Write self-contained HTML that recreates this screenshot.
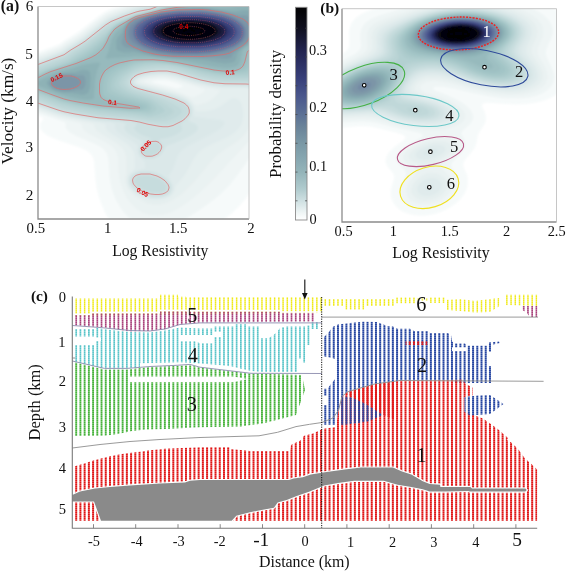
<!DOCTYPE html>
<html><head><meta charset="utf-8"><style>
html,body{margin:0;padding:0;background:#fff;}
svg{display:block;}
</style></head><body>
<svg width="567" height="572" viewBox="0 0 567 572" font-family="Liberation Serif, serif" fill="#111">
<defs>
<clipPath id="clipA"><rect x="38" y="6.5" width="211" height="212.5"/></clipPath>
<clipPath id="clipB"><rect x="342" y="8.7" width="214.5" height="213.3"/></clipPath>
<filter id="soft" x="-5%" y="-5%" width="110%" height="110%"><feGaussianBlur stdDeviation="1.1"/></filter>
<linearGradient id="cbar" x1="0" y1="1" x2="0" y2="0"><stop offset="0.0000" stop-color="#ffffff"/><stop offset="0.0318" stop-color="#f0f6f6"/><stop offset="0.0927" stop-color="#cddfe1"/><stop offset="0.1457" stop-color="#b0cbce"/><stop offset="0.2252" stop-color="#94b4b9"/><stop offset="0.2915" stop-color="#86a6b0"/><stop offset="0.3604" stop-color="#7a98a5"/><stop offset="0.4372" stop-color="#6a8399"/><stop offset="0.5034" stop-color="#5a6e94"/><stop offset="0.5829" stop-color="#4a578c"/><stop offset="0.6624" stop-color="#38407a"/><stop offset="0.7949" stop-color="#222450"/><stop offset="0.9009" stop-color="#10101f"/><stop offset="0.9804" stop-color="#050508"/></linearGradient>
<path id="cols" d="M76.20 290V524M80.42 290V524M84.64 290V524M88.87 290V524M93.09 290V524M97.31 290V524M101.53 290V524M105.75 290V524M109.98 290V524M114.20 290V524M118.42 290V524M122.64 290V524M126.86 290V524M131.09 290V524M135.31 290V524M139.53 290V524M143.75 290V524M147.97 290V524M152.20 290V524M156.42 290V524M160.64 290V524M164.86 290V524M169.08 290V524M173.31 290V524M177.53 290V524M181.75 290V524M185.97 290V524M190.19 290V524M194.42 290V524M198.64 290V524M202.86 290V524M207.08 290V524M211.30 290V524M215.53 290V524M219.75 290V524M223.97 290V524M228.19 290V524M232.41 290V524M236.64 290V524M240.86 290V524M245.08 290V524M249.30 290V524M253.52 290V524M257.75 290V524M261.97 290V524M266.19 290V524M270.41 290V524M274.63 290V524M278.86 290V524M283.08 290V524M287.30 290V524M291.52 290V524M295.74 290V524M299.97 290V524M304.19 290V524M308.41 290V524M312.63 290V524M316.85 290V524M321.08 290V524M325.30 290V524M329.52 290V524M333.74 290V524M337.96 290V524M342.19 290V524M346.41 290V524M350.63 290V524M354.85 290V524M359.07 290V524M363.30 290V524M367.52 290V524M371.74 290V524M375.96 290V524M380.18 290V524M384.41 290V524M388.63 290V524M392.85 290V524M397.07 290V524M401.29 290V524M405.52 290V524M409.74 290V524M413.96 290V524M418.18 290V524M422.40 290V524M426.63 290V524M430.85 290V524M435.07 290V524M439.29 290V524M443.51 290V524M447.74 290V524M451.96 290V524M456.18 290V524M460.40 290V524M464.62 290V524M468.85 290V524M473.07 290V524M477.29 290V524M481.51 290V524M485.73 290V524M489.96 290V524M494.18 290V524M498.40 290V524M502.62 290V524M506.84 290V524M511.07 290V524M515.29 290V524M519.51 290V524M523.73 290V524M527.95 290V524M532.18 290V524M536.40 290V524M540.62 290V524"/>
<clipPath id="cr0"><path d="M73.0 298.5 L160.0 298.5 L160.0 294.8 L178.0 294.8 L178.0 296.7 L186.0 296.7 L186.0 297.2 L322.0 297.2 L322.0 313.0 L73.0 316.0 Z"/></clipPath>
<clipPath id="cr1"><path d="M322.0 299.0 L395.0 299.0 L395.0 297.4 L415.0 297.4 L415.0 303.2 L395.0 303.2 L395.0 306.0 L365.0 306.0 L365.0 309.5 L345.0 309.5 L345.0 306.0 L322.0 306.0 Z"/></clipPath>
<clipPath id="cr2"><path d="M415.0 298.5 L428.0 298.5 L428.0 300.5 L415.0 300.5 Z"/></clipPath>
<clipPath id="cr3"><path d="M428.0 297.5 L445.0 297.5 L445.0 303.0 L428.0 303.0 Z"/></clipPath>
<clipPath id="cr4"><path d="M445.0 300.0 L460.0 299.0 L475.0 301.0 L490.0 299.0 L499.5 298.0 L499.5 306.0 L490.0 312.0 L475.0 312.5 L460.0 311.0 L445.0 309.8 Z"/></clipPath>
<clipPath id="cr5"><path d="M505.0 294.8 L537.5 294.8 L537.5 306.0 L505.0 305.0 Z"/></clipPath>
<clipPath id="cr6"><path d="M73.0 315.0 L92.0 315.0 L92.0 313.2 L160.0 313.2 L160.0 311.2 L186.0 311.2 L186.0 311.5 L280.0 311.5 L280.0 312.8 L314.0 312.8 L314.0 321.5 L200.0 322.5 L180.0 324.5 L165.0 329.3 L150.0 331.0 L130.0 331.5 L115.0 329.0 L100.0 327.0 L73.0 325.3 Z"/></clipPath>
<clipPath id="cr7"><path d="M522.0 306.0 L537.5 306.0 L537.5 317.0 L530.0 317.0 L526.0 312.0 L522.0 310.0 Z"/></clipPath>
<clipPath id="cr8"><path d="M73.0 329.0 L95.0 329.0 L95.0 327.5 L100.0 328.5 L115.0 330.5 L130.0 332.0 L150.0 332.5 L165.0 330.5 L180.0 327.5 L200.0 328.6 L213.2 328.6 L213.2 326.5 L234.3 326.5 L234.3 324.3 L247.0 324.3 L247.0 326.5 L285.0 326.5 L306.0 326.5 L306.0 325.4 L310.3 325.4 L310.3 322.2 L320.0 322.2 L320.0 329.0 L310.3 329.0 L310.3 345.0 L306.0 345.0 L306.0 362.5 L302.0 362.5 L302.0 358.5 L297.6 358.5 L297.6 372.0 L261.0 372.0 L249.0 370.5 L240.0 368.5 L232.0 366.5 L222.0 365.3 L200.0 363.5 L180.0 362.3 L140.0 363.2 L140.0 367.6 L127.0 368.4 L104.0 368.4 L73.0 361.5 Z"/></clipPath>
<clipPath id="cr9"><path d="M73.0 362.0 L104.4 369.4 L127.0 369.4 L150.0 367.0 L175.0 366.0 L190.0 365.2 L200.0 367.6 L250.0 373.5 L302.0 375.0 L305.0 390.0 L296.0 415.0 L277.5 419.7 L263.8 423.2 L240.9 426.6 L200.0 427.3 L166.0 429.0 L145.7 429.6 L132.0 431.0 L118.0 434.0 L104.0 435.8 L73.0 436.0 Z"/></clipPath>
<clipPath id="cr10"><path d="M324.0 337.0 L328.0 333.0 L333.0 326.7 L338.0 324.4 L350.0 323.0 L363.0 321.7 L377.0 322.0 L388.0 326.3 L393.0 326.6 L397.0 328.8 L410.0 328.8 L414.0 330.9 L428.0 330.9 L430.0 333.0 L448.0 333.0 L451.0 335.0 L452.0 341.5 L455.0 343.6 L465.0 343.6 L467.0 345.7 L487.0 345.7 L489.0 342.5 L499.0 341.5 L500.0 343.0 L491.0 345.0 L491.0 383.0 L455.0 383.0 L455.0 380.0 L400.0 380.5 L375.0 384.0 L359.0 388.4 L347.7 391.8 L342.0 396.4 L338.6 410.0 L336.0 424.8 L322.0 424.8 Z"/></clipPath>
<clipPath id="cr11"><path d="M73.0 466.7 L85.0 463.3 L95.0 460.0 L105.0 457.6 L115.0 455.3 L125.0 453.4 L140.0 451.8 L150.0 450.2 L165.0 448.8 L200.0 447.2 L230.0 447.2 L231.0 449.0 L250.0 451.0 L290.0 451.0 L291.0 445.0 L296.0 442.6 L300.5 440.4 L304.0 435.8 L313.0 433.5 L317.7 431.2 L322.0 429.0 L336.0 427.0 L338.6 410.0 L342.0 396.4 L347.7 391.8 L359.0 388.4 L375.0 384.0 L400.0 380.5 L455.0 380.0 L462.0 379.6 L466.0 384.0 L472.5 387.6 L472.5 395.6 L464.5 397.0 L464.5 412.0 L473.7 415.0 L482.9 418.6 L489.8 423.2 L499.0 430.0 L508.0 438.0 L507.0 440.0 L511.5 442.8 L516.0 446.9 L519.6 451.0 L524.0 457.2 L528.7 461.8 L533.3 465.7 L537.2 469.8 L537.2 520.7 L73.0 520.7 Z"/></clipPath>
<clipPath id="cr12"><path d="M345.0 393.5 L350.0 391.5 L360.0 388.4 L375.0 384.0 L395.0 381.0 L395.0 420.0 L383.0 415.0 L366.0 404.0 L352.0 397.5 Z"/></clipPath>
<clipPath id="cr13"><path d="M405.6 341.2 L427.4 341.2 L427.4 345.0 L405.6 345.0 Z"/></clipPath>
<clipPath id="cr14"><path d="M464.5 397.0 L478.0 395.6 L490.0 395.0 L503.5 404.0 L490.0 414.0 L470.0 415.5 L464.5 412.0 Z"/></clipPath>
<clipPath id="cr15"><path d="M341.0 396.0 L352.0 397.5 L366.0 404.0 L383.0 415.0 L368.0 421.4 L345.0 424.8 L340.0 424.8 Z"/></clipPath>
</defs>
<rect width="567" height="572" fill="#fff"/>
<g clip-path="url(#clipA)"><g filter="url(#soft)"><g transform="scale(0.25)"><path fill="#f6fafa" fill-rule="evenodd" d="M616 -48l456 0 0 682-4 4-33 70-27 48-24 37-28 33-28 27-36 28-40 24-58 31-7 4-3 4-292 0-2-4-30-30-20-26-19-32-14-32-13-36-9-40-4-32-4-56-2-16-4-12-8-12-14-12-24-12-97-33-24-10-17-9-11-8-9-8-5-8-3-8 0-8 3-8 12-16-2-4-15-8-22-8-35-7-20-6 0-213 29-6 127-47 20-15 56-34 84-66 24-16 24-11 80-29 28-8 35-6 5-3 3-5 7-16 14-16z"/>
<path fill="#eff5f5" fill-rule="evenodd" d="M632 -47l440-1 0 533-11 35-8 20-12 24-15 24-46 70-33 46-27 34-29 30-31 27-39 29-49 33-40 24-32 15-28 9-28 6-24 1-20-1-20-5-20-7-16-8-20-14-15-13-15-16-14-20-18-32-8-20-7-20-5-24-4-24-4-64-2-16-6-16-6-8-7-8-13-10-19-10-73-31-25-13-10-8-7-8-4-8 1-16-6-4-114-40-43-9-20-6 0-193 34-8 126-47 20-15 56-34 84-66 24-16 20-9 84-31 24-6 40-8 8-3 4-5 3-12 4-8 5-6 16-13zM610 324l-3 4 9 4 82 20 10 1 10-1 10-4 4-4-5-4-19-8-27-8-17-3-28-1-26 4z"/>
<path fill="#eaf2f2" fill-rule="evenodd" d="M652 -45l8-3 412 0 0 437-32 7-3 4 2 48-3 36-4 16-5 16-15 28-24 31-62 65-65 72-32 32-41 36-35 28-29 20-28 16-24 10-28 7-24 1-16-1-16-4-16-6-16-8-15-11-13-12-12-15-9-13-16-32-12-36-5-36-2-56-4-16-8-16-15-16-25-16-57-28-19-12-12-12-4-8 0-8-2-4-8-4-78-18-24-8-75-26-41-8-20-6 0-178 33-8 129-48 23-16 40-24 18-12 81-64 20-14 24-11 80-29 24-7 39-7 13-4 5-4 5-20 6-8 12-9 20-8zM606 316l-22 4-8 4 1 4 24 8 83 22 36 12 44 18 8 0 16-5 16-9 14-10 1-4-6-4-93-30-32-8-32-5-20 0-30 3z"/>
<path fill="#e5efef" fill-rule="evenodd" d="M688 -44l14-4 370 1 0 429-20 4-12 0-32-14-8-2-2 2 7 28 3 24 1 24-1 22-3 18-6 16-8 16-11 16-12 13-16 14-67 45-25 20-18 20-46 56-24 28-28 28-24 21-28 18-24 12-28 7-24 1-24-5-24-12-28-19-12-10-15-17-6-12-5-16 0-16 5-24-2-48-2-20-5-16-12-16-14-12-18-12-49-28-16-12-7-8-3-8-1-8-5-4-13-4-116-24-24-7-76-27-40-7-24-8 0-164 40-11 124-46 24-17 56-34 88-69 20-13 60-24 44-15 20-6 36-6 16-5 4-2 4-5 2-14 3-8 11-10 16-7 40-7zM624 308l-28 3-24 5-12 5-4 3 0 4 12 5 112 30 44 15 20 9 12 7 24 24 4 2 8 0 18-4 14-5 12-6 12-8 10-9 20-20 1-4-5-4-86-19-68-21-32-9-28-4-24 0-12 1z"/>
<path fill="#e0ebec" fill-rule="evenodd" d="M732 -44l12-4 310 0 4 4 14 5 0 415-20 4-12 0-16-8-20-12-16-6-92 0-48-6-60-13-90-27-34-6-32-1-40 5-28 7-14 7-4 4-1 4 3 4 8 4 124 33 32 10 28 12 14 9 12 12 8 12 6 16 4 4 16 1 24-1 16-3 16-4 12-5 14-8 38-27 8-4 8-1 12 2 8 5 4 5 8 16 5 24 1 20-3 20-6 16-11 16-14 14-16 11-20 11-54 24-22 11-21 13-14 12-15 20-24 44-15 24-15 20-20 22-6 22-7 12-7 7-16 10-20 6-28 1-16-1-24-6-16-6-16-9-16-12-10-10-6-8-6-16-1-12 1-8 3-8 4-8 20-20 2-4-1-44-4-20-10-16-16-16-18-12-45-28-15-12-8-12 0-12-3-4-19-5-92-15-60-12-28-9-72-25-44-9-24-9 0-151 40-11 128-48 24-17 56-34 84-66 20-14 20-9 84-31 20-5 40-7 19-7 5-4 2-4 1-12 3-8 6-7 8-5 12-4 24-4 56-8z"/>
<path fill="#dbe8e9" fill-rule="evenodd" d="M772 -45l11-3 257 0 5 4 8 4 19 6 0 403-12 5-16 1-16-7-24-14-16-5-92-1-48-5-60-13-88-27-36-7-32 0-40 5-30 7-10 4-8 6-6 6-1 4 3 5 12 7 128 34 36 12 29 14 15 13 9 15 3 8 2 24 2 5 44 8 62 7 11 4 3 4 2 4-1 4-4 8-8 8-10 8-28 16-88 44-19 12-14 12-13 16-5 12-14 40-6 12-14 20 3 8 10 16 4 12 1 8 0 12-6 12-6 7-7 5-21 8-16 2-20 0-12-1-28-7-28-14-12-9-11-11-7-12-3-8-1-12 1-8 4-8 6-8 15-10 20-8 13-2 7-4-1-24-2-4-17-15-9-13-2-12 1-20-2-5-16-11-45-28-16-12-7-8-4-8 1-16-8-4-13-3-52-5-40-6-96-19-28-8-76-27-44-9-24-9 0-139 12-5 32-8 128-48 24-17 56-35 84-66 20-13 60-24 40-14 24-7 36-6 23-8 5-4 3-4 1-16 4-8 12-8 32-7 72-10 24-4z"/>
<path fill="#d4e4e5" fill-rule="evenodd" d="M808 -45l12-3 207 0 5 4 8 4 24 10 8 1 0 390-8 6-8 3-12 0-14-6-22-14-20-6-92-1-48-5-56-12-85-26-39-8-36 0-40 4-28 6-16 7-13 11-4 8 1 4 3 4 9 6 16 6 120 31 44 16 12 6 12 7 8 8 6 8 4 8 1 8 0 16-3 8-8 12-1 4 1 3 4 3 22 10 5 4 5 8 1 4-3 8-6 8-11 8-20 12-25 12-32 13-31 11-12 24-13 15-20 11-16 2-24-1-12-7-8-8-4-8-1-12 4-12 9-16 1-4-1-3-45-25-12-8-8-8-5-8-1-4 1-8 5-8-3-4-36-6-56-5-48-6-88-16-44-12-80-28-44-9-12-4-12-7 0-126 16-7 20-4 36-13 100-38 24-17 56-34 88-69 20-13 60-23 36-13 24-7 40-7 13-4 11-5 4-3 4-5 1-15 2-8 5-4 7-4 33-7 100-13 28-5zM592 684l20 2 24 8 8 4 20 13 12 13 6 8 4 8 1 12-2 12-9 12-12 7-16 5-12 1-28 0-24-6-18-7-18-10-16-14-9-12-3-8-1-8 1-12 8-12 12-8 16-6 36-2z"/>
<path fill="#cde0e1" fill-rule="evenodd" d="M852 -44l8-3 12-1 138 0 50 21 12 3 0 374-12 13-8 2-8 0-12-6-24-14-16-5-92-1-44-5-51-10-97-29-40-8-40 0-36 4-32 8-16 7-12 10-5 8-1 8 3 4 7 7 20 8 104 28 53 17 18 8 14 8 11 12 5 12 1 16-6 12-16 19-16 13-2 4 6 8 2 8-2 4-6 8-18 11-20 8-20 5-26 4-1 4 13 16 2 12-1 8-4 8-6 8-9 8-20 9-24 1-12-3-4-3-8-8-3-8 0-8 2-8 4-8 13-13 16-10 12-5-6-4-22-7-16-7-11-6-10-8-5-8-1-4 3-7 8-9-4-4-20-5-28-4-88-7-32-4-40-6-60-11-44-11-84-30-44-9-12-5-12-7 0-113 16-9 16-3 16-5 128-48 24-17 56-35 86-67 22-14 56-22 40-14 20-6 40-7 12-4 12-5 8-5 4-4 2-7 0-12 1-4 4-4 5-3 32-7 156-21 16-1zM556 691l16-1 20 0 12 1 28 9 16 7 16 12 8 9 6 8 4 12-1 8-2 8-7 8-15 8-17 4-12 0-16 0-18-4-14-4-25-12-11-8-12-12-6-12-2-12 2-8 6-8 11-8 13-5z"/>
<path fill="#c6dcdd" fill-rule="evenodd" d="M912 -45l36-1 20 4 32 1 16 3 44 17 12 3 0 354-6 4-6 11-4 5-8 1-6-1-30-16-20-6-92-1-28-2-21-3-56-12-87-26-36-8-48 0-36 4-32 8-12 5-7 5-15 16-3 8 2 8 11 11 12 6 12 4 99 27 46 16 34 16 9 7 6 9 3 8-1 13-4 7-16 16-13 8-27 11-16 5-16 1-12 0-24-3-100-18-44-3-88-8-81-13-59-12-26-8-74-26-47-10-9-4-12-8-4-1 0-99 16-11 24-6 36-12 88-33 16-7 20-15 60-37 80-63 24-16 60-24 34-12 26-7 36-7 24-8 8-4 8-7 4-7 0-16 4-5 8-3 28-5 120-16 36-4 64-6 8-2zM600 571l16-2 8 1 7 2 9 8 3 8-1 4-6 12-8 7-9 5-15 5-20-1-8-4-4-4-3-8 2-8 4-8 8-8 17-9zM560 703l12-1 24 0 21 6 19 8 16 11 9 9 6 12-1 8-6 6-8 4-12 3-16 1-12-1-20-4-24-10-12-7-8-6-8-10-3-8 2-8 3-4 6-4 12-5z"/>
<path fill="#c0d8d9" fill-rule="evenodd" d="M916 -36l32 0 16 1 28 1 16 2 8 2 44 17 12 2 0 330-8 3-4 2-12 15-4 1-4 0-24-9-20-4-92-1-48-5-56-12-88-26-40-8-44-1-24 3-28 4-24 7-12 5-8 5-15 14-6 8-2 8 1 8 5 8 4 4 9 6 16 7 67 19 43 16 48 24 19 12 7 8 1 4-3 8-7 8-7 5-20 11-16 6-12 4-12 1-44-2-80-12-116-9-48-6-48-9-56-11-24-7-80-28-48-10-8-3-12-9-8-2 0-82 8-4 12-9 20-5 40-14 88-32 16-8 24-17 56-34 83-66 21-14 92-37 69-17 25-8 7-4 7-7 3-5 1-16 4-3 4-2 24-5 156-20 76-6z"/>
<path fill="#bad4d5" fill-rule="evenodd" d="M880 -24l44-4 72 3 16 3 48 18 12 2 0 304-12 3-20 15-36-3-100 1-44-5-61-13-91-27-36-7-48 0-24 2-24 4-24 6-20 9-22 17-8 8-5 8-3 12 0 4 5 8 13 12 16 9 24 8 48 13 32 14 34 20 21 16 8 8-1 4-3 4-12 8-15 8-20 4-32 3-16 0-68-11-44-2-88-9-84-13-60-13-20-6-72-26-48-10-8-3-14-10-10-2 0-64 8-2 16-12 20-5 40-14 88-33 16-7 24-17 56-35 94-73 30-18 64-28 12-5 55-13 42-12 8-4 4-4 4-16 3-4 4-1 20-4 120-16 36-5 36-2z"/>
<path fill="#b3d0d1" fill-rule="evenodd" d="M888 -16l40-3 64 2 16 3 64 18 0 282-12 1-8 3-16 11-48 8-80 0-44-4-40-8-28-7-75-22-17-4-32-5-44-2-28 3-28 4-28 8-16 8-35 24-7 8-5 8-4 8-1 9 4 7 8 8 10 8 14 8 20 8 69 20 26 16 24 20 6 8 1 4-3 4-7 4-22 8-26 6-72-10-44-3-88-8-52-8-52-10-52-13-80-28-44-9-8-3-16-11-12-2 0-47 12-2 16-11 20-6 36-13 92-34 16-7 24-17 58-36 70-55 28-26 12-9 24-12 44-21 20-7 102-26 9-4 3-4 6-12 8-3 164-22 44-3z"/>
<path fill="#adcccd" fill-rule="evenodd" d="M892 -8l48-3 64 4 40 5 20 7 8 2 0 262-28 5-28 14-31 12-69 1-36-2-28-5-40-8-87-22-57-10-36-2-35 0-28 4-29 8-12 5-16 11-20 11-12 9-11 12-7 12-3 12 0 8 1 4 9 8 15 10 16 8 24 9 64 18 8 3 12 8 15 16 4 8-2 4-9 8-12 6-8 2-52-6-148-13-104-18-52-13-80-29-40-8-8-3-16-10-16-3 0-30 13-3 19-11 28-9 52-22 65-22 19-8 28-19 48-29 32-24 36-30 30-34 14-11 20-11 52-25 20-7 80-20 27-6 9-4 8-9 8-3 156-20 48-4z"/>
<path fill="#a7c8c9" fill-rule="evenodd" d="M908 0l16-2 36 1 48-2 36 3 20 8 8 1 0 243-44 5-4 3-28 24-12 6-60 5-24 0-24-3-20-2-40-8-96-22-48-8-40-4-24-1-28 1-29 4-15 5-12 5-16 10-26 12-12 8-13 12-6 8-6 12-2 16 1 15 3 5 5 4 28 14 27 10 73 19 11 5 9 8 5 8 1 4-4 8-4 4-6 2-68-2-108-9-32-4-72-13-36-8-32-8-80-30-40-11-28-12-16-4 0-15 15-6 21-11 28-9 48-22 89-30 63-37 24-16 44-35 8-8 17-24 19-22 24-16 56-28 24-8 60-15 50-11 22-8 152-19 64-5z"/>
<path fill="#a2c4c6" fill-rule="evenodd" d="M1004 0l40 3 20 7 8 1 0 225-28 3-20-2-8 1-4 3-17 27-12 12-7 3-12 1-24 6-16 1-32 0-36-5-136-28-68-10-40-4-32 1-39 3-17 5-20 10-32 14-20 13-12 12-6 10-6 20-1 12 2 20 3 7 4 3 24 11 32 9 40 9 48 14 6 3 3 4 2 4-1 4-4 4-22 6-44-1-124-11-88-16-40-9-28-8-76-29-44-14-34-14-4-4 5-4 29-15 36-13 44-21 85-27 18-8 47-24 26-17 36-28 12-15 17-28 20-24 11-9 12-7 60-30 84-23 80-17 132-13 168-13z"/>
<path fill="#9ec0c2" fill-rule="evenodd" d="M988 4l16-1 36 1 32 10 0 204-28 4-32-4-8 1-4 5-15 36-8 12-27 12-18 4-36 0-36-4-164-33-28-4-56-5-44 0-32 2-20 5-44 15-21 12-12 8-9 8-9 12-6 16-3 16-1 32 3 12 3 4 7 5 18 7 18 4 68 12 40 10 3 2 3 4-1 4-4 4-5 2-40 0-128-12-116-21-24-6-28-9-60-24-48-16-25-10-4-4 3-4 24-12 30-11 44-22 32-11 64-20 49-20 24-12 23-16 24-20 12-16 20-36 12-16 8-8 17-12 63-33 76-21 76-16 72-7 112-7 112-12z"/>
<path fill="#97babd" fill-rule="evenodd" d="M984 8l20-2 36 1 20 7 12 3 0 180-12 8-12 2-20-1-24-5-8 1-4 2-3 4-8 32-7 20-5 8-11 8-10 5-12 3-44 0-36-4-128-26-52-9-64-6-28 0-48 1-24 4-35 8-13 5-24 11-12 8-8 7-7 9-5 9-7 19-2 12-1 40 3 12 6 8 13 9 24 8 110 19 6 4-32 1-25-1-11-2-92-7-109-19-34-8-24-8-69-27-38-13-20-8-6-4 2-4 15-8 35-13 46-23 94-29 64-25 24-13 16-11 16-17 10-17 18-36 19-24 16-12 25-13 28-18 16-7 92-24 68-12 60-5 108-4 40-4 72-9z"/>
<path fill="#8eb2b6" fill-rule="evenodd" d="M968 24l24-3 32 3 12 3 24 11 12 3 0 130-8 3-12 10-8 4-12-1-20-4-12-1-8 2-12 8-8 8-2 4-9 40-5 12-4 5-12 6-12 3-20 2-32-3-28-4-116-23-140-15-56-1-40 4-36 1-28 4-4 0-5-3 1-4 10-24 13-48 9-16 12-15 20-15 21-22 18-12 17-8 96-26 68-10 40-2 60-2 68 5 20 0 20-1 52-8zM380 251l16-1 4 2 0 4-12 28-6 28-2 16-4 64-4 5-20 2-20-1-68-14-44-14-72-29-6-5 0-4 5-4 49-25 24-10 68-19 44-15 48-8z"/>
<path fill="#86a9b0" fill-rule="evenodd" d="M788 32l20 0 28 2 96 12 44-5 12 0 24 6 16 7 8 5 28 21 8 4 0 45-4 2-8 8-20 25-8 3-20-2-8 1-43 34-5 4-5 8-8 28-3 4-6 4-10 3-24 3-36-5-44-8-20-2-33-3-75-3-28-2-56-8-64-14-12-1-16 2-20 0-24-7-4-3-2-4-2-28 3-12 9-13 12-12 10-23 11-16 9-8 20-12 25-8 81-21 68-9 76-2zM328 280l8-1 16 3 5 2 2 4 1 4 2 20-2 36-6 20-2 4-8 4-8 3-8 0-40-7-36-1-24-6-12-4-14-9-15-16-2-4 6-8 13-13 12-8 12-5 20-5 52-4 28-9z"/>
<path fill="#819fab" fill-rule="evenodd" d="M716 36l88-1 32 2 52 7 68 16 24 0 16 7 13 9 9 8 10 12 3 8 1 4-5 24-4 8-3 4-12 4-24 29-49 35-3 4-4 9-4 5-8 3-12 2-44-3-52 0-112-2-28-3-44-5-24-5-32-9-44-15-20-2-8-5-6-6-4-8 0-8 6-14 6-30 2-8 9-16 13-12 13-8 9-4 72-20 37-8 63-8zM264 296l20 0 28 5 16-1 4 1 4 2 5 9 1 16-1 12-5 13-8 6-20 0-28 6-20 1-12-1-20-4-12-5-8-5-9-11-2-8 3-8 6-8 10-8 20-8 12-3 16-1z"/>
<path fill="#7c95a7" fill-rule="evenodd" d="M704 40l96-2 32 2 53 8 46 12 40 16 12 8 8 8 7 12 5 12 0 12-3 16-8 16-6 8-7 8-11 8-20 12-32 17-20 5-44 5-44 3-116-1-44-4-31-5-46-12-37-16-20-12-7-8-3-8-3-12 1-24 2-8 3-8 9-14 7-6 11-8 18-8 88-23 64-9zM252 304l33 0 14 4 9 4 7 4 5 6 2 6-2 8-4 5-12 7-9 4-14 4-25 2-17-2-14-4-13-8-4-4-2-8 2-6 5-6 11-8 10-4 18-4z"/>
<path fill="#748aa4" fill-rule="evenodd" d="M700 44l16-2 88 0 28 3 40 6 44 11 28 12 20 13 9 9 8 12 5 12 0 16-2 12-6 12-7 8-19 14-16 9-20 8-24 7-48 9-56 4-64 0-32-1-60-8-28-7-24-8-20-9-19-10-13-10-8-10-5-12-1-16 2-12 8-13 12-11 16-11 24-11 24-8 44-11 56-7z"/>
<path fill="#6b7fa1" fill-rule="evenodd" d="M688 48l28-2 88 0 40 4 28 4 36 9 28 12 20 13 9 8 9 12 4 12 0 16-1 8-6 12-6 8-13 11-16 10-20 8-24 8-24 5-28 5-56 4-56 0-36-2-56-8-40-11-20-8-16-9-11-9-11-12-6-12-2-12 1-12 3-8 4-8 10-11 8-6 20-12 20-8 44-12 48-7z"/>
<path fill="#62749d" fill-rule="evenodd" d="M680 52l36-3 88 0 24 2 35 5 45 11 31 13 17 12 8 8 5 8 5 12 0 12-2 12-6 12-6 8-10 8-14 9-16 7-24 8-40 9-36 4-32 2-64 0-32-2-32-4-24-4-21-5-23-8-16-7-16-10-12-11-8-12-3-12-1-12 4-12 4-8 8-9 15-11 14-8 23-9 27-7 49-8z"/>
<path fill="#5a6998" fill-rule="evenodd" d="M676 56l40-4 84 0 44 5 24 4 30 7 32 12 13 8 13 10 8 10 4 9 1 11-1 14-4 9-7 9-9 8-12 8-18 8-23 8-36 8-39 5-32 2-60 0-36-2-39-5-36-8-24-8-17-8-13-8-9-8-6-8-5-12-1-12 2-13 4-8 10-11 24-16 20-8 28-8 46-8z"/>
<path fill="#525f93" fill-rule="evenodd" d="M684 60l32-4 84 0 48 6 36 8 16 5 16 7 12 7 10 7 8 8 9 12 3 12-1 8-3 8-6 9-12 10-12 8-16 7-20 7-40 9-44 5-80 1-20-1-32-4-40-8-16-5-20-8-16-9-12-9-7-8-5-8-2-12 2-8 4-8 11-12 13-10 16-9 20-8 24-7 40-6z"/>
<path fill="#4a558c" fill-rule="evenodd" d="M716 60l80 0 28 2 32 5 32 8 28 12 12 8 6 5 9 12 3 8 1 8-1 8-3 8-10 12-21 14-20 9-24 7-44 7-24 2-92 0-48-7-16-3-24-7-16-7-16-9-8-7-8-11-4-12 1-12 2-8 6-8 11-10 8-6 12-6 20-7 36-9 52-6z"/>
<path fill="#424c85" fill-rule="evenodd" d="M708 64l16-1 76 0 40 5 39 8 13 4 18 8 18 12 8 9 5 11 1 8-1 8-4 8-6 8-9 8-14 8-19 8-17 5-32 6-40 4-88 0-36-4-37-7-33-12-13-8-10-8-6-8-3-8-1-12 3-12 6-8 10-9 12-7 20-8 12-4 28-7 44-5z"/>
<path fill="#3a427c" fill-rule="evenodd" d="M700 68l28-2 68 0 48 6 35 8 29 12 8 4 10 8 6 7 4 9 1 8-1 7-4 9-7 8-19 12-19 8-14 4-41 8-32 3-88 0-36-4-35-7-33-12-20-14-5-6-4-8-1-12 2-9 8-10 11-9 25-12 11-4 29-7 36-5z"/>
<path fill="#32396f" fill-rule="evenodd" d="M700 72l28-3 60 0 40 4 36 8 28 12 21 15 7 8 3 4 1 6 0 6-4 7-5 5-15 11-12 6-24 9-36 8-36 5-68 0-36-4-24-5-24-7-12-5-24-14-8-7-3-5-3-8 2-8 6-8 13-12 9-6 16-8 28-9 36-5z"/>
<path fill="#2a2f62" fill-rule="evenodd" d="M732 72l52 0 24 2 28 4 28 7 20 9 14 10 7 8 4 8 1 8-1 4-4 8-8 8-9 7-12 6-28 9-36 6-24 3-68-1-40-5-16-3-16-5-16-7-8-4-11-10-6-8-3-8 1-8 7-12 8-8 8-5 8-4 20-8 32-6 44-5z"/>
<path fill="#232652" fill-rule="evenodd" d="M720 76l20-1 48 0 40 5 32 8 24 10 12 9 8 13 1 4-2 8-7 12-11 8-9 5-24 8-36 8-28 2-64 0-29-3-35-7-24-9-12-7-8-8-4-5-3-8 1-8 4-8 6-7 7-5 9-5 16-7 36-8 32-4z"/>
<path fill="#1b1e41" fill-rule="evenodd" d="M716 80l28-2 44 1 36 4 23 5 23 8 18 10 9 10 2 8 0 4-3 8-3 4-9 8-8 4-21 8-36 8-31 3-64 0-29-3-27-6-30-10-14-9-8-11-1-8 2-8 3-5 8-7 15-8 10-4 32-8 31-4z"/>
<path fill="#141630" fill-rule="evenodd" d="M712 84l32-3 24 0 40 4 24 4 16 6 18 9 14 11 4 5 2 4-1 4-2 4-4 4-23 15-20 7-24 6-20 2-48 2-24-2-40-7-24-9-21-14-7-8 0-4 1-4 3-4 10-8 18-11 24-8 28-5z"/>
<path fill="#0e0e1f" fill-rule="evenodd" d="M748 84l20 0 24 2 28 4 16 5 16 6 10 7 8 12 1 8-5 8-4 4-18 11-24 7-28 4-36 2-36-2-28-4-16-5-20-9-5-4-6-8-2-8 0-4 2-4 7-8 8-6 8-4 24-7 28-5 28-2z"/>
<path fill="#0a0a14" fill-rule="evenodd" d="M740 88l28-1 24 2 20 3 17 4 19 7 12 9 5 8 0 8-4 8-5 4-15 8-21 6-28 5-24 2-24 0-28-3-32-6-20-8-12-9-4-7 0-4 2-8 3-4 11-8 21-8 23-5 32-3z"/>
<path fill="#06060b" fill-rule="evenodd" d="M736 92l32-1 40 4 20 5 12 4 14 8 6 8 0 8-6 8-14 8-28 8-20 3-24 2-20 0-28-2-35-7-20-8-9-7-3-9 3-9 9-7 21-8 34-7 16-1z"/>
<path fill="#050508" fill-rule="evenodd" d="M740 96l32 0 20 2 16 4 12 4 17 10 6 4 2 4-2 4-3 2-20 12-12 4-20 4-36 3-28-3-20-4-16-7-18-11-2-4 2-4 14-10 16-7 20-5 20-2z"/>
<path fill="#050508" fill-rule="evenodd" d="M736 100l36-1 20 3 16 4 8 3 9 7 2 4 1 4-1 4-7 8-12 5-20 5-24 3-12 0-24-2-24-6-12-5-8-8-1-4 3-8 6-5 12-5 16-4 16-2z"/>
<path fill="#050508" fill-rule="evenodd" d="M728 104l12-2 28 0 28 4 12 3 8 4 7 7 1 4-1 4-3 3-7 5-13 4-16 3-32 3-36-5-16-5-7-4-5-6-1-2 1-4 4-5 8-4 12-4 16-3z"/>
<path fill="#050507" fill-rule="evenodd" d="M724 108l16-2 24-1 25 3 15 4 8 3 6 5 2 4-2 4-6 5-9 3-18 4-29 3-29-3-18-4-9-3-6-5-2-4 1-4 4-4 10-4 17-4z"/>
<path fill="#050507" fill-rule="evenodd" d="M728 112l16-2 16 0 23 2 18 4 8 4 3 4-4 4-8 3-20 5-24 2-24-2-20-5-9-3-3-4 2-4 9-4 17-4z"/>
<path fill="#040407" fill-rule="evenodd" d="M744 119l24 0 4 1 7 4-14 4-13 1-19-5 7-4 4-1z"/></g></g>
<g transform="scale(0.25)"><path d="M960 -48l8 3 28 0 16 3 52 20 8 2M80 285l16-10 32-8 128-48 27-19 37-22 20-13 82-65 22-14 54-22 46-16 16-4 40-7 24-9 12-8 4-4 1-4 1-16 2-4 5-4 35-7 152-20 40-3 12-3 12 0 8-3M1072 341l-4 3-8 13-6 3-10 0-9-4-23-14-16-5-12-1-84-1-44-4-53-11-99-29-36-7-36 0-28 2-28 5-24 7-8 4-8 5-9 9-5 8 0 8 2 4 8 9 8 4 12 5 98 26 50 16 36 16 10 8 7 8 4 12 0 12-5 9-12 14-12 9-36 18-20 5-20 0-16-2-44-8-35-9-33-6-132-11-92-15-44-9-24-7-84-29-40-8-12-5-12-8-4-1M600 567l8-1 16-1 8 3 4 2 9 10 2 8-2 8-4 8-5 6-7 6-8 4-10 4-7 1-16 0-6-1-7-4-8-8-2-8 2-8 5-10 8-8 20-11zM564 696l36 0 28 8 16 8 16 11 12 15 4 10 0 4-4 11-5 5-7 4-11 4-13 2-16 0-17-2-16-4-28-12-11-8-12-13-4-7-2-12 3-8 7-8 8-4 16-4z" fill="none" stroke="#e06a6a" stroke-width="3.0" stroke-opacity="0.9"/>
<path d="M1072 197l-12 8-12 2-12 0-32-6-8 1-4 2-3 4-10 40-7 16-8 8-8 5-20 7-44 0-36-4-148-30-56-8-40-3-76 1-24 4-35 8-17 6-20 10-17 12-7 8-9 16-6 16-3 16 0 32 1 8 5 13 8 8 8 4 20 7 24 5 90 15 6 4-40 1-108-9-80-12-52-10-24-6-48-17-92-35-16-8 2-4 18-9 36-14 25-13 23-10 100-32 60-24 20-11 18-15 11-12 14-24 9-21 7-11 16-20 17-12 48-28 20-10 101-26 67-11 88-6 72-2 132-15 36 1 20 7 12 3" fill="none" stroke="#e06a6a" stroke-width="3.0" stroke-opacity="0.9"/>
<path d="M704 40l96-2 32 2 53 8 46 12 40 16 12 8 8 8 7 12 5 12 0 12-3 16-8 16-6 8-7 8-11 8-20 12-32 17-20 5-44 5-44 3-116-1-44-4-31-5-46-12-37-16-20-12-7-8-3-8-3-12 1-24 2-8 3-8 9-14 7-6 11-8 18-8 88-23 64-9zM252 304l33 0 14 4 9 4 7 4 5 6 2 6-2 8-4 5-12 7-9 4-14 4-25 2-17-2-14-4-13-8-4-4-2-8 2-6 5-6 11-8 10-4 18-4z" fill="none" stroke="#e06a6a" stroke-width="3.0" stroke-opacity="0.9"/>
<path d="M676 56l40-4 84 0 44 5 24 4 30 7 32 12 13 8 13 10 8 10 4 9 1 11-1 14-4 9-7 9-9 8-12 8-18 8-23 8-36 8-39 5-32 2-60 0-36-2-39-5-36-8-24-8-17-8-13-8-9-8-6-8-5-12-1-12 2-13 4-8 10-11 24-16 20-8 28-8 46-8z" fill="none" stroke="#d85a6a" stroke-width="2.6" stroke-dasharray="3.2 4.4" stroke-opacity="0.8"/>
<path d="M700 68l28-2 68 0 48 6 35 8 29 12 8 4 10 8 6 7 4 9 1 8-1 7-4 9-7 8-19 12-19 8-14 4-41 8-32 3-88 0-36-4-35-7-33-12-20-14-5-6-4-8-1-12 2-9 8-10 11-9 25-12 11-4 29-7 36-5z" fill="none" stroke="#d85a6a" stroke-width="2.6" stroke-dasharray="3.2 4.4" stroke-opacity="0.8"/>
<path d="M716 80l28-2 44 1 36 4 23 5 23 8 18 10 9 10 2 8 0 4-3 8-3 4-9 8-8 4-21 8-36 8-31 3-64 0-29-3-27-6-30-10-14-9-8-11-1-8 2-8 3-5 8-7 15-8 10-4 32-8 31-4z" fill="none" stroke="#d85a6a" stroke-width="2.6" stroke-dasharray="3.2 4.4" stroke-opacity="0.8"/>
<path d="M736 92l32-1 40 4 20 5 12 4 14 8 6 8 0 8-6 8-14 8-28 8-20 3-24 2-20 0-28-2-35-7-20-8-9-7-3-9 3-9 9-7 21-8 34-7 16-1z" fill="none" stroke="#d85a6a" stroke-width="2.6" stroke-dasharray="3.2 4.4" stroke-opacity="0.8"/>
<path d="M724 108l16-2 24-1 25 3 15 4 8 3 6 5 2 4-2 4-6 5-9 3-18 4-29 3-29-3-18-4-9-3-6-5-2-4 1-4 4-4 10-4 17-4z" fill="none" stroke="#d85a6a" stroke-width="2.6" stroke-dasharray="3.2 4.4" stroke-opacity="0.8"/></g>
<text transform="translate(183.8,26.8) rotate(0)" y="2.2" font-family="Liberation Sans, sans-serif" font-weight="bold" font-size="6.5" fill="#e00000" text-anchor="middle">0.4</text><text transform="translate(56.5,77.5) rotate(-25)" y="2.2" font-family="Liberation Sans, sans-serif" font-weight="bold" font-size="6.5" fill="#e00000" text-anchor="middle">0.15</text><text transform="translate(112.5,102.5) rotate(8)" y="2.2" font-family="Liberation Sans, sans-serif" font-weight="bold" font-size="6.5" fill="#e00000" text-anchor="middle">0.1</text><text transform="translate(230.1,72.5) rotate(-5)" y="2.2" font-family="Liberation Sans, sans-serif" font-weight="bold" font-size="6.5" fill="#e00000" text-anchor="middle">0.1</text><text transform="translate(145.9,145.8) rotate(-45)" y="2.2" font-family="Liberation Sans, sans-serif" font-weight="bold" font-size="6.5" fill="#e00000" text-anchor="middle">0.05</text><text transform="translate(142.5,192.4) rotate(28)" y="2.2" font-family="Liberation Sans, sans-serif" font-weight="bold" font-size="6.5" fill="#e00000" text-anchor="middle">0.05</text>
</g>
<g clip-path="url(#clipB)"><g filter="url(#soft)"><g transform="scale(0.25)"><path fill="#f6fafa" fill-rule="evenodd" d="M1536 26l26-7 628 0 28 16 22 16 0 159-2 17 2 15 0 123-16 14-24 14-32 12-32 7-32 4-40 2-40-2-72-5-16 2-8 5 1 9 11 24 4 16-1 16-2 8-9 16-12 17-8 15-6 32-5 16-10 16-27 32-6 8-4 8-1 8 1 8 14 32 3 16 0 24-4 16-3 8-9 16-12 16-11 11-16 13-16 11-16 9-24 10-24 8-32 5-24 1-24-2-24-6-24-10-16-11-14-15-5-8-7-16-3-16 0-16 3-16 10-32 0-8-1-8-4-8-21-24-4-8-3-8-1-8 1-8 6-16 12-16 18-16 33-24 8-8 2-8-11-8-25-8-64-16-42-9-24-1-24 0-80 7 0-284 25-17 9-8 7-8 4-8 1-16-2-40 2-16 5-16 4-8 13-16 8-8 12-8 24-12 24-8 48-13z"/>
<path fill="#eff5f5" fill-rule="evenodd" d="M1640 25l25-6 425 0 30 11 24 11 24 15 14 11 10 10 10 14 7 16 2 16 0 8-4 16-21 48-3 16 3 16 19 40 9 24 3 16-2 16-6 16-9 12-14 12-18 11-24 9-32 8-40 3-40 0-40-3-48-8-40-8-87-20-44-8-21-1-12 1-4 2-5 6 10 8 51 19 24 11 24 13 16 10 13 11 15 16 7 16 2 8-1 8-3 8-5 8-12 13-22 19-5 8 1 8 10 18 5 14 0 8-1 8-4 8-11 16-31 32-6 8-3 8 1 8 3 8 17 24 7 16 2 8 0 16-4 16-4 8-10 16-9 10-16 14-16 10-16 8-24 9-32 5-16 0-16-1-16-3-11-4-13-7-8-5-12-12-5-8-6-16-1-8 1-16 4-16 16-32 3-8 0-8-3-8-7-8-18-16-7-8-4-8-1-8 1-8 3-8 6-8 15-16 31-21 36-19 12-8 4-8-14-8-94-20-78-20-18-3-40-3-96 6 0-239 63-33 12-8 9-8 4-6 4-10 0-8-3-32 1-16 1-8 7-16 5-8 9-9 9-7 13-8 26-11 128-39z"/>
<path fill="#eaf2f2" fill-rule="evenodd" d="M1696 26l34-7 288 0 30 7 32 10 24 10 23 13 17 12 12 12 12 16 5 16 1 16-3 16-17 40-4 16 1 8 5 16 24 40 9 24 2 16-1 8-6 16-5 8-11 11-16 10-16 8-16 5-24 5-24 2-24 1-24 0-32-3-56-10-40-9-80-21-48-10-24-3-16 0-16 2-12 4-13 8-5 8-1 8 7 8 15 8 65 20 40 17 29 19 16 16 5 8 3 8 0 8-2 8-5 8-7 8-15 10-16 7-32 10-24 3-24 0-40-3-48-6-48-9-80-22-40-7-40 0-88 4 0-212 93-47 11-8 8-8 4-8 2-8-3-40 2-16 3-9 8-13 16-15 22-11 26-10 104-34 48-13zM1728 554l16-4 16-2 16 0 16 2 16 5 13 8 7 8 4 8 0 8-2 8-10 16-17 16-29 24-7 8-3 8 4 8 27 24 11 16 4 16-1 16-6 16-12 16-15 13-16 10-16 7-24 6-24 2-16-1-16-4-18-9-9-8-6-8-4-8-3-16 1-8 5-16 9-16 24-32 2-8-4-8-37-24-8-9-3-7-1-8 3-8 4-8 13-13 15-11 17-9 24-11 40-13z"/>
<path fill="#e5efef" fill-rule="evenodd" d="M1744 26l53-7 149 0 14 1 48 8 40 11 40 16 24 14 16 14 7 8 6 8 6 16 2 8-1 16-5 16-15 32-3 16 2 8 2 8 31 48 4 8 6 16 1 16-1 8-3 8-7 10-5 6-11 8-16 9-16 6-16 4-24 4-40 1-48-4-48-8-40-10-93-26-39-8-20-2-24 0-16 2-16 5-17 11-7 8-5 8-1 8 3 8 3 3 6 5 18 7 64 19 24 9 16 8 21 13 10 8 7 8 5 8 2 8-1 8-3 8-7 8-12 8-14 6-16 5-16 3-24 3-32 0-64-5-48-9-80-23-32-5-32-2-72 4-32 1 0-193 40-22 61-27 15-8 10-8 7-8 3-8 1-16-2-32 3-16 4-8 6-8 8-8 12-8 32-15 104-37 40-11 48-10zM1720 569l24-4 24 0 16 2 9 4 7 5 4 3 3 8 0 8-4 8-5 8-9 8-21 15-24 13-16 7-16 3-16 1-24-4-16-6-8-5-9-8-3-8 1-8 4-8 7-8 11-8 21-12 16-7 24-7zM1696 698l16-6 8-1 16 1 16 4 8 3 16 11 10 13 2 8 1 8-4 16-10 16-15 13-16 9-16 5-16 3-16 0-16-2-10-4-12-8-7-8-4-8-1-8 0-8 5-16 12-16 8-8 17-13 8-4z"/>
<path fill="#e0ebec" fill-rule="evenodd" d="M1792 26l48-3 48-1 40 3 48 6 40 9 40 13 28 14 22 16 8 8 11 16 4 16 0 8-1 8-5 16-15 32-2 8-1 8 2 8 3 8 29 40 9 16 3 8 3 16 0 8-2 8-4 8-6 8-9 8-13 8-24 8-16 4-24 3-40 0-40-4-48-9-48-12-72-22-32-8-16-3-24-2-24 1-16 3-16 6-18 11-14 16-4 8-3 8 1 8 5 8 17 9 72 21 32 12 24 14 11 8 7 8 4 8 2 8-1 8-7 9-9 7-7 3-16 6-16 4-24 3-24 1-32-1-32-4-48-9-72-22-32-6-32-1-80 4-32 0 0-177 40-22 81-35 14-8 9-8 6-8 2-8 1-8-2-32 2-16 7-14 8-9 16-12 24-11 72-29 32-11 56-15 40-8 32-4zM1736 578l16 0 10 1 6 1 11 7 4 8-2 8-6 8-9 8-14 8-16 7-24 6-16 1-16-3-8-3-10-8-1-8 3-8 7-8 9-7 24-11 16-4 16-3zM1712 713l16-2 8 1 8 2 8 4 7 5 6 8 2 8-1 8-2 8-6 8-8 8-14 8-16 5-8 1-16-1-8-2-8-4-8-7-3-8-1-8 2-8 4-8 6-8 8-7 8-5 16-6z"/>
<path fill="#dbe8e9" fill-rule="evenodd" d="M1776 34l48-5 48-1 48 2 48 6 40 9 32 11 24 11 25 16 8 8 12 16 4 16 1 8-3 16-20 40-2 8-1 8 2 8 3 8 31 40 10 16 3 8 3 16-1 8-3 8-8 11-5 5-11 8-16 7-16 4-16 3-24 2-40-1-40-5-40-9-48-13-64-21-32-8-24-4-16-1-32 2-16 3-16 7-16 10-8 8-8 9-9 15-2 8-1 8 2 8 8 8 17 8 57 15 32 10 24 12 16 11 8 8 4 8 1 8-3 8-2 2-6 6-10 5-16 6-24 5-24 1-32 0-32-4-32-6-29-7-51-17-32-6-32-2-80 5-40-1 0-163 24-15 24-12 24-10 49-19 18-8 13-8 8-8 4-8 2-8-2-40 4-16 5-8 6-8 10-8 11-7 24-12 40-18 40-15 24-9 56-14 40-6zM1728 594l16 1 7 8-5 8-14 8-12 3-16 0-10-3-1-8 8-8 19-8 8-1zM1712 738l8-2 8 1 3 2 4 8-4 8-11 6-8 1-8-3-4-4 1-8 3-4 8-5z"/>
<path fill="#d4e4e5" fill-rule="evenodd" d="M1816 34l40-1 40 0 48 5 40 7 32 9 24 9 24 13 19 15 12 16 4 8 2 16-3 16-8 16-13 24-3 8-1 8 1 8 4 8 32 40 11 16 3 8 2 16-1 8-4 8-6 8-10 8-9 4-24 9-32 4-40 0-40-5-40-9-48-14-64-21-32-9-24-4-16-1-24 0-16 2-16 4-16 7-12 9-9 8-11 14-11 18-5 16 0 8 4 8 12 8 22 8 66 17 24 9 11 6 12 8 7 8 4 8 0 8-5 8-12 8-17 6-16 3-24 1-24 0-32-3-32-6-30-9-42-15-16-4-16-3-32-1-88 5-40-1 0-151 16-10 32-17 32-14 59-21 18-8 11-8 7-8 3-8 1-8-2-24 0-16 5-16 6-8 8-8 20-14 64-31 40-15 24-8 32-8 32-6 56-7z"/>
<path fill="#cde0e1" fill-rule="evenodd" d="M1776 42l40-4 40-1 40 0 40 4 40 7 32 9 32 13 24 15 14 14 6 8 3 8 3 16-1 8-6 16-19 32-3 8-2 8 1 8 4 8 6 8 28 32 10 16 5 16 0 8-2 8-7 10-6 6-10 6-24 9-32 4-40-1-40-6-40-9-40-12-64-23-32-9-24-4-16-1-24 0-16 2-16 3-16 6-16 10-8 8-16 21-16 28-4 16 1 8 5 8 15 8 63 15 24 7 24 10 13 8 8 8 3 8-1 8-8 8-7 3-16 5-24 3-24 0-24-2-24-4-22-5-66-24-16-3-16-2-32 1-80 5-24 0-24-2 0-139 24-15 32-17 40-16 61-20 19-10 8-7 4-7 2-8-2-40 4-16 4-8 6-8 9-8 11-8 50-27 24-11 32-12 40-12 32-7 24-4z"/>
<path fill="#c6dcdd" fill-rule="evenodd" d="M1808 42l32-2 40 0 40 3 32 5 32 7 32 10 24 12 20 14 8 8 6 8 4 8 2 16-1 8-6 16-24 40-2 8 0 8 4 8 5 8 30 32 10 16 4 8 1 8-1 8-3 8-6 8-11 8-8 4-24 6-32 3-32-2-40-6-40-10-34-11-62-23-32-10-16-3-24-2-24 0-24 3-16 4-16 6-13 9-11 12-16 23-17 29-6 16-1 8 2 8 6 8 16 8 77 16 22 8 13 7 10 9 3 8-4 8-9 5-16 5-16 2-24 0-24-3-39-9-57-23-24-4-32 0-96 8-24-1-24-2 0-129 32-20 32-16 40-15 71-22 15-8 7-8 4-8 1-8-3-40 4-16 5-8 8-9 16-13 17-10 29-16 26-12 40-15 32-9 32-7 48-6z"/>
<path fill="#c0d8d9" fill-rule="evenodd" d="M1768 50l40-5 40-2 40 1 40 3 40 8 32 9 32 14 19 13 8 8 10 16 2 8 0 16-6 16-27 40-3 8 0 8 3 8 5 8 31 32 11 16 3 8 1 8-1 8-4 8-4 4-5 4-11 6-24 7-32 2-32-2-32-5-40-11-32-11-64-25-32-9-24-4-24-2-24 1-24 3-16 4-16 6-8 5-8 8-16 25-28 50-7 16-2 16 3 8 2 3 8 5 8 2 64 7 26 7 17 8 9 8 2 8-11 8-11 2-16 2-16-1-24-3-25-8-17-8-22-15-8-3-8-2-32 1-88 9-32 2-32 0-24-3 0-118 32-21 40-20 48-16 56-15 19-7 5-3 8-7 4-6 2-8 0-8-5-32 2-16 3-8 5-8 17-16 37-24 23-12 24-11 40-14 32-8 24-4z"/>
<path fill="#bad4d5" fill-rule="evenodd" d="M1784 51l40-4 40-1 40 2 32 4 40 8 24 8 24 11 18 12 9 8 6 8 4 8 3 8-1 16-2 8-9 16-24 32-4 8-1 8 2 8 6 8 31 32 11 16 3 8 1 8-3 8-5 8-13 8-24 7-24 2-32-1-32-6-40-10-32-12-64-26-32-10-24-4-24-1-24 0-32 3-24 6-9 4-10 8-6 8-20 40-23 40-17 32-6 8-5 4-16 6-16 4-40 7-40 5-48 2-24-2-16-3 0-107 16-12 24-14 40-19 40-13 78-18 18-8 8-8 2-8 0-8-7-40 2-16 4-8 5-8 17-16 35-24 22-12 24-10 48-16 32-7 24-3zM1632 433l16-2 16 2 8 2 12 8-4 3-8 4-16-1-21-6-6-8 3-2z"/>
<path fill="#b3d0d1" fill-rule="evenodd" d="M1808 51l32-2 32 0 40 2 32 5 32 8 24 8 24 12 19 15 7 8 4 8 3 8 0 8-1 8-2 8-10 16-26 32-4 8-2 8 1 8 5 8 32 32 11 16 3 8 0 8-4 8-8 8-19 8-17 3-24 0-24-2-32-6-32-9-27-10-69-30-36-10-28-4-32-1-40 2-32 4-16 4-4 3-4 6-13 42-11 24-32 51-11 13-11 8-10 4-24 8-32 6-32 4-24 2-24 0-24-2-16-4 0-97 2-1 14-11 24-15 24-12 32-13 40-11 32-6 48-7 19-5 7-8 1-8-2-8-11-40-1-16 6-16 5-8 16-16 22-16 18-11 24-12 24-10 48-14 32-6 32-3z"/>
<path fill="#adcccd" fill-rule="evenodd" d="M1768 58l32-4 40-3 40 0 40 4 40 7 24 7 30 14 18 12 11 12 5 8 2 8 1 8-1 8-7 16-5 8-29 32-5 8-3 8 0 8 4 8 33 32 6 8 5 8 2 8-1 8-6 8-13 8-23 4-24 1-32-4-32-8-24-8-72-33-32-10-28-6-28-3-88-2-18-3-6-3-7-5-9-11-8-15-6-14-3-16 2-16 3-8 12-16 18-16 11-8 35-20 40-16 32-8 24-5zM1528 259l32-2 16 2 8 2 9 6 4 8 2 8 0 8-3 16-11 24-20 32-13 17-8 9-16 11-16 7-24 6-32 6-32 4-32 0-24-3-16-4 0-86 16-14 16-11 24-13 24-11 24-8 24-6 24-5 24-3z"/>
<path fill="#a7c8c9" fill-rule="evenodd" d="M1784 58l40-4 40-1 40 2 32 5 32 7 24 9 24 12 14 11 7 8 5 8 2 8 1 8-1 8-7 16-6 8-37 40-4 8-1 8 3 8 7 8 25 23 7 9 5 8 1 8-3 8-10 8-8 3-16 3-24 0-24-3-16-4-25-7-21-8-58-28-32-11-24-5-29-4-67-4-24-3-16-4-16-10-10-11-10-16-4-16 0-8 1-8 3-8 5-8 14-16 21-16 12-8 24-13 16-6 24-9 24-6 40-7zM1504 266l32-3 24 2 16 5 6 5 6 8 2 8 0 8-1 8-6 16-8 16-11 16-20 25-16 13-16 8-24 8-32 7-32 3-32 0-24-3-16-6 0-75 5-4 11-10 20-14 36-19 40-14 40-8z"/>
<path fill="#a2c4c6" fill-rule="evenodd" d="M1800 58l32-3 40 0 32 3 40 6 32 9 24 10 16 9 15 15 5 8 3 8 1 8-1 8-3 8-5 8-13 16-33 32-6 8-2 8 1 8 6 8 26 24 7 8 4 8-1 8-6 8-14 5-16 2-24-2-24-4-27-9-19-8-42-22-29-10-27-7-24-4-80-8-24-3-16-5-8-4-8-5-8-8-8-10-5-10-3-16 1-8 3-8 5-8 13-16 9-8 17-12 16-10 32-14 24-8 24-6 48-7zM1480 274l32-5 32 0 16 3 6 3 10 8 4 8 2 8-1 8-4 16-13 24-20 25-16 14-16 10-24 9-32 7-32 4-32-1-24-4-16-7 0-62 8-9 24-19 32-18 32-13 32-9z"/>
<path fill="#9ec0c2" fill-rule="evenodd" d="M1816 58l32-1 32 1 32 3 32 5 24 7 25 10 15 8 10 8 8 8 5 8 3 8 1 8-2 8-2 8-5 8-10 12-40 36-7 8-5 8-1 8 4 8 26 24 6 8 3 8-4 8-14 5-8 1-16-1-24-4-25-9-48-24-31-11-21-5-27-5-96-12-24-5-16-7-8-5-8-6-7-8-5-8-2-8-2-8 1-8 2-8 10-16 7-8 20-16 12-8 20-11 40-14 48-11 40-5zM1496 275l32-2 16 2 8 2 8 3 8 7 3 4 3 8 0 8-1 8-2 8-8 16-17 24-17 16-17 11-24 10-24 7-32 4-24 1-24-2-16-4-8-4-8-6 0-47 8-10 16-15 25-17 31-15 32-11 32-6z"/>
<path fill="#97babd" fill-rule="evenodd" d="M1768 66l32-5 40-2 40 1 32 2 40 8 24 8 24 12 16 12 10 13 3 8 1 8-1 8-3 8-5 8-13 15-50 41-7 8-4 8 0 8 5 8 17 16 4 8-5 6-5 2-11 0-16-4-14-4-42-20-11-4-32-8-46-8-87-12-24-5-24-8-12-7-9-8-6-8-3-8-2-8 0-8 2-8 4-8 5-8 15-16 23-16 23-12 32-11 40-10zM1472 282l32-5 24 1 22 5 11 8 5 8 1 8-2 16-3 8-10 16-16 19-16 14-24 13-24 8-24 5-32 3-24-2-18-4-15-8-7-8 0-28 7-12 9-11 24-19 24-14 24-11 32-10z"/>
<path fill="#8eb2b6" fill-rule="evenodd" d="M1792 66l40-4 48 1 48 6 32 8 16 7 15 7 11 8 9 8 5 8 4 8 1 8-2 8-3 8-8 12-12 12-12 10-24 16-32 18-24 9-16 2-16 1-48-3-80-11-32-5-24-6-16-6-16-9-9-8-5-8-4-8-1-8 1-8 3-8 5-8 15-16 10-8 13-8 20-10 24-9 16-5 24-5 24-4zM1472 290l24-4 24 0 17 5 11 8 4 8 1 8-1 8-8 18-10 14-8 8-14 11-22 13-18 6-24 6-24 2-24-1-19-5-12-8-6-8-1-8 1-8 3-8 5-8 14-16 23-16 16-9 24-10 24-6z"/>
<path fill="#86a9b0" fill-rule="evenodd" d="M1816 67l40-2 40 3 32 5 32 9 24 11 9 6 9 8 6 8 3 8 1 8-1 8-3 8-5 8-7 8-12 10-16 11-24 13-24 11-32 8-40 2-56-4-56-8-24-5-24-8-13-6-12-8-7-8-5-8-2-8 0-8 2-8 11-16 8-8 18-13 32-15 24-8 24-6 24-4 24-2zM1464 299l24-4 24 0 13 4 10 8 4 8 0 8-2 8-9 16-8 9-16 13-16 10-21 8-19 4-24 2-16-1-19-5-10-8-4-8 0-8 3-8 4-8 7-8 19-16 14-8 18-9 24-7z"/>
<path fill="#819fab" fill-rule="evenodd" d="M1784 73l40-4 48 0 40 4 32 8 26 10 14 8 9 8 7 8 3 8 2 8-2 8-3 8-8 11-8 7-16 12-24 14-16 6-32 10-40 5-40-1-56-6-24-5-24-6-24-9-11-6-9-8-6-8-3-8 0-8 1-8 4-8 6-8 10-10 16-11 16-8 16-7 24-7 32-7zM1464 306l16-2 16-1 16 4 8 6 2 2 2 8 0 8-4 8-12 16-12 9-16 9-16 6-16 4-16 2-16-1-16-5-8-8-3-8 2-8 4-8 7-8 9-8 13-9 16-8 24-8z"/>
<path fill="#7c95a7" fill-rule="evenodd" d="M1800 74l32-3 40 1 40 4 32 8 24 10 18 13 6 8 4 8 1 8-1 8-3 8-6 8-11 10-16 11-32 16-32 10-24 4-16 1-40 0-56-6-40-10-16-5-14-7-11-8-7-8-4-8-1-8 1-8 4-8 6-8 10-10 16-11 16-8 16-6 24-7 40-7zM1472 314l8-1 14 2 12 8 1 8-2 8-5 8-8 8-12 8-8 4-11 4-13 3-16 1-8-1-9-3-7-7-1-1-1-8 4-8 7-8 7-6 17-10 15-6 16-3z"/>
<path fill="#748aa4" fill-rule="evenodd" d="M1824 74l32 0 40 3 32 6 23 8 17 8 10 8 7 8 4 8 2 8-2 8-3 8-6 8-12 10-16 11-32 14-24 7-16 3-40 3-48-2-24-3-24-5-32-10-10-4-12-8-8-8-5-8-2-8 1-8 3-8 6-8 8-8 11-8 14-8 26-10 40-10 40-5zM1456 330l16-2 10 3 2 8-5 8-11 8-12 4-8 2-8-1-8-3-2-2 0-8 2-2 8-8 16-7z"/>
<path fill="#6b7fa1" fill-rule="evenodd" d="M1784 82l32-5 40-1 40 3 32 7 24 9 19 12 8 8 4 8 1 8-1 8-4 8-6 8-13 11-16 10-32 13-32 7-32 4-40-1-40-5-32-7-24-9-13-7-9-8-5-8-2-8 0-8 3-8 5-8 9-8 20-13 32-13 32-7z"/>
<path fill="#62749d" fill-rule="evenodd" d="M1792 83l32-4 40 0 32 3 32 7 24 10 16 12 4 4 5 8 1 8-1 8-4 8-6 8-10 8-13 8-32 14-32 8-32 3-40 0-40-5-32-8-24-10-14-10-6-8-3-8 1-8 2-8 6-8 8-8 22-14 32-11 32-7z"/>
<path fill="#5a6998" fill-rule="evenodd" d="M1816 82l32-1 24 1 32 4 24 6 24 11 14 12 5 8 1 8-1 8-4 8-7 8-10 8-13 8-25 10-32 9-32 3-40 0-40-5-32-9-16-7-8-5-6-4-7-8-3-8 0-8 2-8 6-8 8-8 12-8 20-9 32-10 40-6z"/>
<path fill="#525f93" fill-rule="evenodd" d="M1776 91l32-6 40-2 32 2 32 5 24 9 15 8 9 8 5 8 2 8-2 8-4 8-7 8-18 12-24 11-24 7-32 5-32 1-32-2-32-6-24-7-11-5-12-8-7-8-4-8 0-8 2-8 6-8 10-9 11-7 13-6 32-10z"/>
<path fill="#4a558c" fill-rule="evenodd" d="M1792 90l32-4 32-1 32 3 24 5 24 9 8 5 10 8 5 8 2 8-1 8-4 8-8 8-12 9-24 11-32 9-32 4-32 0-32-3-32-7-24-10-8-5-8-8-4-8-1-8 3-8 5-8 9-8 13-8 23-10 32-7z"/>
<path fill="#424c85" fill-rule="evenodd" d="M1800 90l24-2 32-1 32 3 24 6 24 10 12 9 6 8 2 8-1 8-5 8-8 8-14 9-24 11-32 7-32 4-32-1-32-4-24-6-10-4-14-8-10-8-4-8-1-8 2-8 6-8 7-6 16-10 24-10 32-7z"/>
<path fill="#3a427c" fill-rule="evenodd" d="M1816 90l24-1 24 1 24 3 25 6 18 8 11 8 6 8 2 8-1 8-4 8-8 8-13 8-28 11-24 6-32 3-32 0-32-5-24-7-18-8-9-8-5-8-2-8 3-8 5-8 10-8 24-12 24-7 32-6z"/>
<path fill="#32396f" fill-rule="evenodd" d="M1784 98l24-5 32-2 32 2 24 4 24 8 16 10 7 8 2 8-1 8-8 11-5 5-11 7-16 7-24 7-24 4-32 1-32-3-24-4-16-6-16-9-5-4-6-8-1-8 2-8 6-8 10-8 18-10 24-7z"/>
<path fill="#2a2f62" fill-rule="evenodd" d="M1792 98l24-3 32-2 24 2 24 4 22 8 13 8 7 8 2 8-1 8-5 8-6 5-16 10-16 7-24 6-24 3-32 0-24-2-24-5-20-8-11-8-6-8-2-8 2-8 6-8 15-11 16-7 24-7z"/>
<path fill="#232652" fill-rule="evenodd" d="M1808 98l24-3 24 1 24 2 24 6 8 3 13 8 7 8 3 8-1 8-5 8-10 8-7 4-24 10-24 5-24 2-24 0-24-2-24-6-13-5-12-8-7-8-2-8 2-8 6-8 11-8 7-4 24-9 24-4z"/>
<path fill="#1b1e41" fill-rule="evenodd" d="M1816 99l24-2 24 1 24 4 16 5 15 8 8 8 3 8-1 8-9 11-7 5-9 5-16 6-24 5-24 3-24 0-24-3-24-6-19-10-7-8-3-8 2-8 7-8 11-8 9-4 24-8 24-4z"/>
<path fill="#141630" fill-rule="evenodd" d="M1792 105l24-4 24-2 24 1 24 5 8 2 16 7 8 7 5 10-2 8-5 8-11 8-18 8-17 5-24 3-24 1-24-2-16-3-14-4-15-8-8-8-2-8 2-8 6-8 15-10 24-8z"/>
<path fill="#0e0e1f" fill-rule="evenodd" d="M1800 105l24-3 24-1 24 3 15 3 19 8 10 8 4 8-2 8-6 8-11 8-20 8-17 4-16 2-24 1-24-2-16-4-23-9-8-8-3-8 2-8 7-8 12-8 29-10z"/>
<path fill="#0a0a14" fill-rule="evenodd" d="M1808 106l16-2 24-1 24 3 16 4 12 5 10 8 4 8-1 8-6 8-13 8-14 5-16 4-16 3-24 0-24-2-16-4-16-6-10-8-3-8 2-8 7-8 14-8 30-9z"/>
<path fill="#06060b" fill-rule="evenodd" d="M1824 106l16-1 23 2 17 3 13 5 11 8 5 8-2 8-6 8-14 8-15 5-16 3-24 2-24-1-16-3-16-6-12-8-3-8 2-8 5-6 17-10 23-7 16-2z"/>
<path fill="#050508" fill-rule="evenodd" d="M1800 113l16-3 24-2 16 1 16 2 13 4 13 8 5 8-1 8-7 8-15 8-24 6-16 2-16 0-16-2-16-3-9-3-12-8-5-8 2-8 8-8 16-8 8-2z"/>
<path fill="#050508" fill-rule="evenodd" d="M1808 113l16-2 16-1 16 1 20 4 16 8 5 8-1 8-8 8-8 4-9 4-15 3-16 2-16 0-16-1-16-4-15-8-5-8 2-8 10-9 16-7 8-2z"/>
<path fill="#050508" fill-rule="evenodd" d="M1816 114l16-1 16 0 16 2 8 2 13 6 3 4 3 4-1 8-10 8-24 9-16 1-16 1-24-4-16-7-5-8 1-8 10-8 26-9z"/>
<path fill="#050507" fill-rule="evenodd" d="M1800 122l24-6 24-1 16 3 12 5 8 8-1 8-11 8-24 7-26 1-14-3-16-5-7-8 2-8 13-9z"/>
<path fill="#050507" fill-rule="evenodd" d="M1808 123l24-4 24 1 10 3 10 8-1 8-12 8-15 3-24 1-16-2-6-2-9-8 2-8 13-8z"/>
<path fill="#040407" fill-rule="evenodd" d="M1824 123l16-1 16 2 11 7-1 8-18 8-16 1-16-1-14-8 2-8 12-6 8-2z"/>
<path fill="#040407" fill-rule="evenodd" d="M1816 131l16-4 8 0 15 4-1 8-14 4-8 0-8-1-10-3 2-8z"/></g></g>
<ellipse cx="458.5" cy="33.5" rx="40.2" ry="16.4" transform="rotate(-2 458.5 33.5)" fill="none" stroke="#f02020" stroke-width="1.4" stroke-dasharray="2 1.2"/>
<ellipse cx="484.3" cy="67.75" rx="44.4" ry="17.4" transform="rotate(11.3 484.3 67.75)" fill="none" stroke="#2e4a9a" stroke-width="1.1" />
<ellipse cx="364.2" cy="85.5" rx="42.6" ry="19.0" transform="rotate(-20.5 364.2 85.5)" fill="none" stroke="#44b044" stroke-width="1.1" />
<ellipse cx="415.3" cy="110.45" rx="44.0" ry="15.2" transform="rotate(7.2 415.3 110.45)" fill="none" stroke="#6cc8c8" stroke-width="1.1" />
<ellipse cx="430.5" cy="151.55" rx="33.9" ry="13.2" transform="rotate(-13.2 430.5 151.55)" fill="none" stroke="#b85a88" stroke-width="1.1" />
<ellipse cx="429.35" cy="187.3" rx="30.1" ry="20.2" transform="rotate(-16.9 429.35 187.3)" fill="none" stroke="#f0e020" stroke-width="1.1" />
<circle cx="484.5" cy="67.2" r="1.8" fill="#fff" stroke="#000" stroke-width="1.1"/>
<circle cx="364.2" cy="85.3" r="1.8" fill="#fff" stroke="#000" stroke-width="1.1"/>
<circle cx="415.3" cy="110.2" r="1.8" fill="#fff" stroke="#000" stroke-width="1.1"/>
<circle cx="430.4" cy="151.7" r="1.8" fill="#fff" stroke="#000" stroke-width="1.1"/>
<circle cx="429.3" cy="187.3" r="1.8" fill="#fff" stroke="#000" stroke-width="1.1"/>
</g>
<g fill="none" stroke-width="2" stroke-dasharray="1.7 0.3">
<use href="#cols" stroke="#f0ea18" stroke-width="1.5" clip-path="url(#cr0)"/>
<use href="#cols" stroke="#f0ea18" stroke-width="1.5" clip-path="url(#cr1)"/>
<use href="#cols" stroke="#f0ea18" stroke-width="1.5" clip-path="url(#cr2)"/>
<use href="#cols" stroke="#f0ea18" stroke-width="1.5" clip-path="url(#cr3)"/>
<use href="#cols" stroke="#f0ea18" stroke-width="1.5" clip-path="url(#cr4)"/>
<use href="#cols" stroke="#f0ea18" stroke-width="1.5" clip-path="url(#cr5)"/>
<use href="#cols" stroke="#a8407a" stroke-width="1.7" clip-path="url(#cr6)"/>
<use href="#cols" stroke="#a8407a" stroke-width="1.7" clip-path="url(#cr7)"/>
<use href="#cols" stroke="#58c4c8" stroke-width="1.7" clip-path="url(#cr8)"/>
<use href="#cols" stroke="#46b23a" stroke-width="1.9" clip-path="url(#cr9)"/>
<use href="#cols" stroke="#2444a0" stroke-width="2.0" clip-path="url(#cr10)"/>
<use href="#cols" stroke="#e01414" stroke-width="2.0" clip-path="url(#cr11)"/>
<use href="#cols" stroke="#e01414" stroke-width="2.0" clip-path="url(#cr12)"/>
<use href="#cols" stroke="#e01414" stroke-width="2.0" clip-path="url(#cr13)"/>
<use href="#cols" stroke="#2444a0" stroke-width="2.0" clip-path="url(#cr14)"/>
<use href="#cols" stroke="#2444a0" stroke-width="2.0" clip-path="url(#cr15)"/>
</g>
<path fill="#fff" d="M72.8 336.5 L94.0 336.5 L94.0 337.5 L101.0 337.5 L101.0 341.0 L94.0 341.0 L94.0 345.0 L72.8 345.0 Z"/>
<path fill="#fff" d="M179.0 335.0 L213.2 335.0 L213.2 331.8 L221.7 331.8 L221.7 337.0 L213.2 337.0 L213.2 343.2 L200.0 343.2 L195.0 341.2 L179.0 341.2 Z"/>
<path fill="#fff" d="M259.6 323.7 L285.0 323.7 L285.0 327.2 L280.7 327.2 L276.5 332.5 L272.3 336.0 L268.0 338.2 L259.6 338.2 Z"/>
<path fill="#fff" d="M73.0 313.5 L92.0 313.5 L92.0 311.7 L160.0 311.7 L160.0 309.7 L186.0 309.7 L186.0 310.0 L280.0 310.0 L280.0 311.3 L322.0 311.3 L322.0 312.8 L280.0 312.8 L280.0 311.5 L186.0 311.5 L186.0 311.2 L160.0 311.2 L160.0 313.2 L92.0 313.2 L92.0 315.0 L73.0 315.0 Z"/>
<path fill="#fff" d="M130.0 376.5 L233.0 376.5 L248.0 379.0 L233.0 382.2 L130.0 382.2 Z"/>
<path fill="#fff" d="M322.3 356.0 L331.0 357.8 L336.3 359.3 L336.3 377.5 L331.0 384.0 L327.5 388.8 L322.3 388.8 Z"/>
<path fill="#fff" d="M322.3 395.6 L327.5 395.6 L327.5 405.0 L322.3 405.0 Z"/>
<path fill="#fff" d="M452.0 347.3 L466.0 347.3 L466.0 351.0 L452.0 351.0 Z"/>
<path fill="#fff" d="M487.6 351.6 L491.5 351.6 L491.5 366.2 L487.6 366.2 Z"/>
<path fill="#8a8a8a" stroke="#fff" stroke-width="2.2" paint-order="stroke" stroke-linejoin="round" d="M72.3 495.0 L80.0 491.6 L95.0 488.6 L110.0 487.0 L130.0 485.4 L160.0 483.6 L185.0 482.4 L190.0 480.8 L200.0 480.0 L289.0 480.0 L293.6 478.5 L302.8 477.2 L310.8 474.4 L326.5 472.1 L344.8 469.4 L360.9 467.5 L393.0 467.5 L402.0 471.6 L411.3 474.4 L422.8 481.3 L429.7 484.0 L440.0 484.7 L440.4 487.0 L470.3 487.0 L472.0 488.6 L525.3 488.6 L526.8 490.1 L525.3 491.6 L470.0 491.6 L468.0 490.9 L445.0 491.6 L429.7 491.6 L422.8 489.3 L411.3 487.0 L397.6 484.7 L383.8 480.8 L354.0 480.8 L338.0 483.1 L324.2 485.4 L309.7 491.6 L296.0 496.2 L286.7 500.0 L277.6 502.4 L274.0 507.7 L261.5 510.0 L250.0 512.2 L236.3 515.7 L231.7 520.7 L101.0 520.7 L94.0 501.5 L72.3 501.5 Z"/>
<path d="M72.3 325.5 L100.0 327.5 L130.0 330.5 L150.0 331.0 L165.0 329.0 L180.0 324.5 L200.0 322.9 L322.0 322.9" fill="none" stroke="#8c8cae" stroke-width="0.9"/>
<path d="M72.3 361.0 L104.4 368.4 L127.0 368.4 L150.0 366.5 L175.0 365.4 L190.0 364.4 L200.0 367.2 L251.0 373.3 L322.0 373.5" fill="none" stroke="#8c8cae" stroke-width="0.9"/>
<path d="M72.3 448.0 L100.0 444.5 L130.0 441.5 L160.0 439.5 L200.0 437.5 L259.0 435.8 L277.5 432.3 L296.0 426.6 L309.6 424.3 L322.0 422.5 L333.0 418.0 L338.6 410.0 L342.0 396.4 L347.7 391.8 L359.0 388.4 L375.0 383.9 L400.0 380.5 L450.0 380.8 L543.6 381.3" fill="none" stroke="#8e8e8e" stroke-width="0.9"/>
<path d="M322.0 317.1 L538.0 317.1" fill="none" stroke="#8e8e8e" stroke-width="0.9"/>
<path d="M38 6.5 V219 H249" fill="none" stroke="#8c8c8c" stroke-width="1.3"/>
<path d="M38 6.5 H249 V219" fill="none" stroke="#b8b8b8" stroke-width="0.8"/>
<path d="M342 8.7 V222 H556.5" fill="none" stroke="#8c8c8c" stroke-width="1.3"/>
<path d="M342 8.7 H556.5 V222" fill="none" stroke="#b8b8b8" stroke-width="0.8"/>
<rect x="295.5" y="7.3" width="11.5" height="212.7" fill="url(#cbar)" stroke="#8c8c8c" stroke-width="0.9"/>
<path d="M295.5 200.8 h2 M307 200.8 h-2" stroke="#444" stroke-width="0.7"/>
<path d="M295.5 172.1 h2 M307 172.1 h-2" stroke="#444" stroke-width="0.7"/>
<path d="M295.5 143.3 h2 M307 143.3 h-2" stroke="#444" stroke-width="0.7"/>
<path d="M295.5 114.5 h2 M307 114.5 h-2" stroke="#444" stroke-width="0.7"/>
<path d="M295.5 85.7 h2 M307 85.7 h-2" stroke="#444" stroke-width="0.7"/>
<path d="M295.5 57 h2 M307 57 h-2" stroke="#444" stroke-width="0.7"/>
<path d="M295.5 28.2 h2 M307 28.2 h-2" stroke="#444" stroke-width="0.7"/>
<path d="M72.3 296.5 V528.2 H537.2" fill="none" stroke="#7a7a7a" stroke-width="1.1"/>
<path d="M93.5 528.2 v-4" stroke="#7a7a7a" stroke-width="0.9"/>
<path d="M135.7 528.2 v-4" stroke="#7a7a7a" stroke-width="0.9"/>
<path d="M178.0 528.2 v-4" stroke="#7a7a7a" stroke-width="0.9"/>
<path d="M220.2 528.2 v-4" stroke="#7a7a7a" stroke-width="0.9"/>
<path d="M262.5 528.2 v-4" stroke="#7a7a7a" stroke-width="0.9"/>
<path d="M304.7 528.2 v-4" stroke="#7a7a7a" stroke-width="0.9"/>
<path d="M346.9 528.2 v-4" stroke="#7a7a7a" stroke-width="0.9"/>
<path d="M389.2 528.2 v-4" stroke="#7a7a7a" stroke-width="0.9"/>
<path d="M431.4 528.2 v-4" stroke="#7a7a7a" stroke-width="0.9"/>
<path d="M473.7 528.2 v-4" stroke="#7a7a7a" stroke-width="0.9"/>
<path d="M515.9 528.2 v-4" stroke="#7a7a7a" stroke-width="0.9"/>
<path d="M72.3 358 h3" stroke="#7a7a7a" stroke-width="0.8"/>
<path d="M321.7 297 V528" stroke="#111" stroke-width="1" stroke-dasharray="1.2 1.2"/>
<path d="M304.8 279.5 V294" stroke="#222" stroke-width="1.2"/>
<path d="M302 293 L307.6 293 L304.8 299.5 Z" fill="#111"/>
<text x="0.73" y="11.45" font-size="15.81" font-weight="bold">(a)</text><text x="25.77" y="10.65" font-size="15.23">6</text><text x="25.24" y="58.67" font-size="15.23">5</text><text x="25.69" y="106.10" font-size="15.23">4</text><text x="25.52" y="152.27" font-size="15.23">3</text><text x="25.74" y="199.85" font-size="15.23">2</text><text x="26.53" y="233.17" font-size="14.83">0.5</text><text x="104.02" y="233.30" font-size="14.83">1</text><text x="168.91" y="233.27" font-size="14.83">1.5</text><text x="247.14" y="233.27" font-size="14.83">2</text><text x="112.23" y="256.00" font-size="15.66">Log Resistivity</text><text transform="translate(13.05,164.57) rotate(-90)" font-size="17.28">Velocity (km/s)</text><text x="309.06" y="55.41" font-size="14.31">0.3</text><text x="309.20" y="111.81" font-size="14.31">0.2</text><text x="309.20" y="170.58" font-size="14.31">0.1</text><text x="309.52" y="224.01" font-size="14.31">0</text><text transform="translate(280.96,177.91) rotate(-90)" font-size="16.90">Probability density</text><text x="320.30" y="13.47" font-size="15.50" font-weight="bold">(b)</text><text x="334.62" y="235.52" font-size="14.36">0.5</text><text x="389.69" y="235.74" font-size="14.36">1</text><text x="440.66" y="235.67" font-size="14.36">1.5</text><text x="502.95" y="235.72" font-size="14.36">2</text><text x="547.67" y="235.70" font-size="14.36">2.5</text><text x="392.22" y="257.99" font-size="15.88">Log Resistivity</text><text x="482.50" y="36.82" font-size="16.59" fill="#ffffff">1</text><text x="514.97" y="77.24" font-size="16.59">2</text><text x="389.62" y="79.96" font-size="16.59">3</text><text x="445.30" y="120.84" font-size="16.59">4</text><text x="449.89" y="151.51" font-size="16.59">5</text><text x="446.82" y="188.88" font-size="16.59">6</text><text x="30.93" y="300.64" font-size="15.36" font-weight="bold">(c)</text><text x="58.87" y="302.47" font-size="14.50">0</text><text x="58.36" y="346.89" font-size="14.50">1</text><text x="58.82" y="386.31" font-size="14.50">2</text><text x="58.70" y="431.54" font-size="14.50">3</text><text x="58.77" y="472.71" font-size="14.50">4</text><text x="58.78" y="513.84" font-size="14.50">5</text><text transform="translate(39.65,440.39) rotate(-90)" font-size="16.45">Depth (km)</text><text x="87.96" y="545.73" font-size="14.31">-5</text><text x="130.75" y="546.05" font-size="14.31">-4</text><text x="172.66" y="545.98" font-size="14.31">-3</text><text x="213.68" y="546.05" font-size="14.31">-2</text><text x="253.15" y="546.45" font-size="19.39">-1</text><text x="301.52" y="546.46" font-size="14.31">0</text><text x="347.11" y="546.67" font-size="14.31">1</text><text x="388.92" y="546.60" font-size="14.31">2</text><text x="430.35" y="546.53" font-size="14.31">3</text><text x="472.22" y="546.60" font-size="14.31">4</text><text x="512.21" y="546.16" font-size="19.39">5</text><text x="259.02" y="567.27" font-size="15.93">Distance (km)</text><text x="187.34" y="322.47" font-size="20.23">5</text><text x="187.64" y="361.67" font-size="20.23">4</text><text x="186.84" y="411.32" font-size="20.23">3</text><text x="417.09" y="371.82" font-size="20.23">2</text><text x="416.54" y="461.73" font-size="20.23">1</text><text x="416.19" y="310.62" font-size="20.23">6</text>
</svg>
</body></html>
